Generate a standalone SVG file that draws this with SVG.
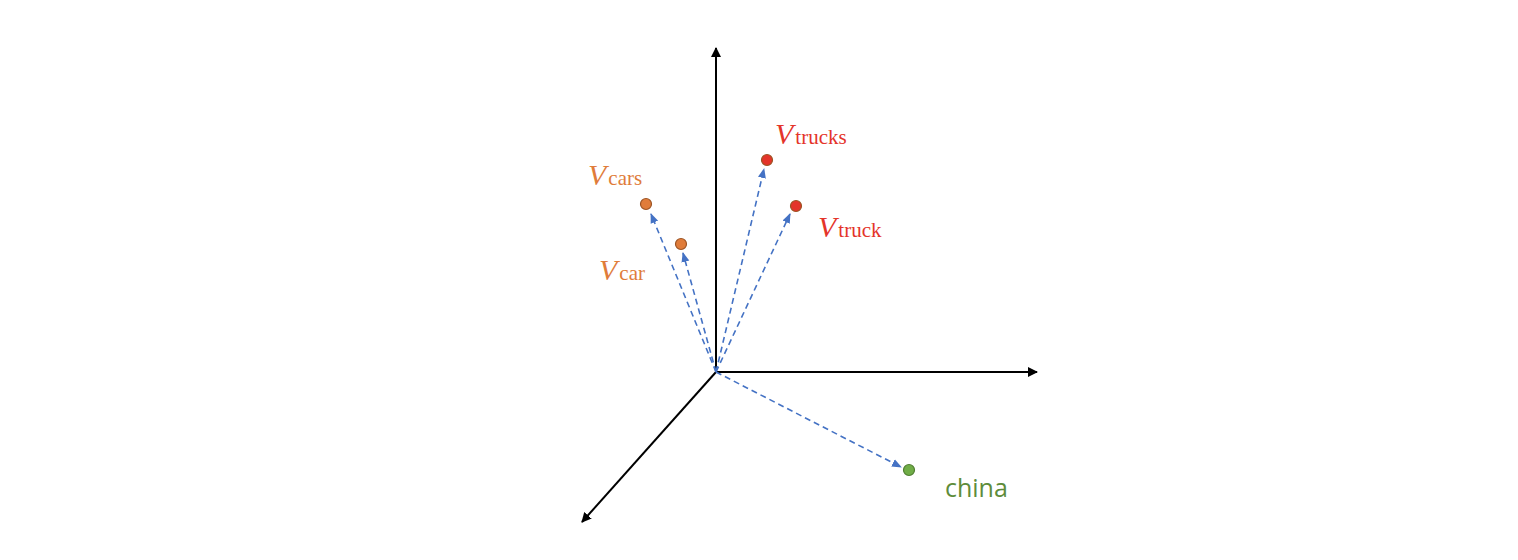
<svg xmlns="http://www.w3.org/2000/svg" width="1518" height="560" viewBox="0 0 1518 560">
<style>
.ax{stroke:#000;stroke-width:2;fill:none}
.vec{stroke:#4472C4;stroke-width:1.6;stroke-dasharray:6,4;fill:none}
.lv{font-family:"Liberation Serif",serif;font-style:italic;font-size:30px}
.ls{font-family:"Liberation Serif",serif;font-size:21px}
.or{fill:#E07C3A}.rd{fill:#E4342A}
</style>
<defs>
<marker id="ab" markerWidth="10" markerHeight="10" refX="9" refY="5" orient="auto" markerUnits="userSpaceOnUse"><path d="M0,0L10,5L0,10z" fill="#000"/></marker>
<marker id="vb" markerWidth="10" markerHeight="10" refX="9" refY="5" orient="auto" markerUnits="userSpaceOnUse"><path d="M0,1L10,5L0,9z" fill="#4472C4"/></marker>
</defs>
<g id="axes">
<line class="ax" x1="716" y1="372" x2="716" y2="48" marker-end="url(#ab)"/>
<line class="ax" x1="716" y1="372" x2="1037" y2="372" marker-end="url(#ab)"/>
<line class="ax" x1="716" y1="372" x2="582" y2="522" marker-end="url(#ab)"/>
</g>
<g id="connectors">
<line class="vec" x1="716" y1="372" x2="651" y2="214" marker-end="url(#vb)"/>
<line class="vec" x1="716" y1="372" x2="683" y2="253" marker-end="url(#vb)"/>
<line class="vec" x1="716" y1="372" x2="764" y2="169" marker-end="url(#vb)"/>
<line class="vec" x1="716" y1="372" x2="790" y2="214" marker-end="url(#vb)"/>
<line class="vec" x1="716" y1="372" x2="901" y2="467" marker-end="url(#vb)"/>
</g>
<g id="cars"><circle cx="646" cy="204" r="5.5" fill="#E07C3A" stroke="#9C5424" stroke-width="1.2"/>
<text x="588" y="185"><tspan class="lv or">V</tspan><tspan class="ls or" dx="2">cars</tspan></text></g>
<g id="car"><circle cx="681" cy="244" r="5.5" fill="#E07C3A" stroke="#9C5424" stroke-width="1.2"/>
<text x="599" y="280"><tspan class="lv or">V</tspan><tspan class="ls or" dx="2">car</tspan></text></g>
<g id="trucks"><circle cx="767" cy="160" r="5.5" fill="#E4342A" stroke="#9C5424" stroke-width="1.2"/>
<text x="775" y="144"><tspan class="lv rd">V</tspan><tspan class="ls rd" dx="2">trucks</tspan></text></g>
<g id="truck"><circle cx="796" cy="206" r="5.5" fill="#E4342A" stroke="#9C5424" stroke-width="1.2"/>
<text x="818" y="237"><tspan class="lv rd">V</tspan><tspan class="ls rd" dx="2">truck</tspan></text></g>
<g id="china"><circle cx="909" cy="470" r="5.5" fill="#70AD47" stroke="#507E32" stroke-width="1.2"/>
<text x="945" y="497" font-family="'Open Sans',sans-serif" font-size="25" fill="#5E8C3A">china</text></g>
</svg>
